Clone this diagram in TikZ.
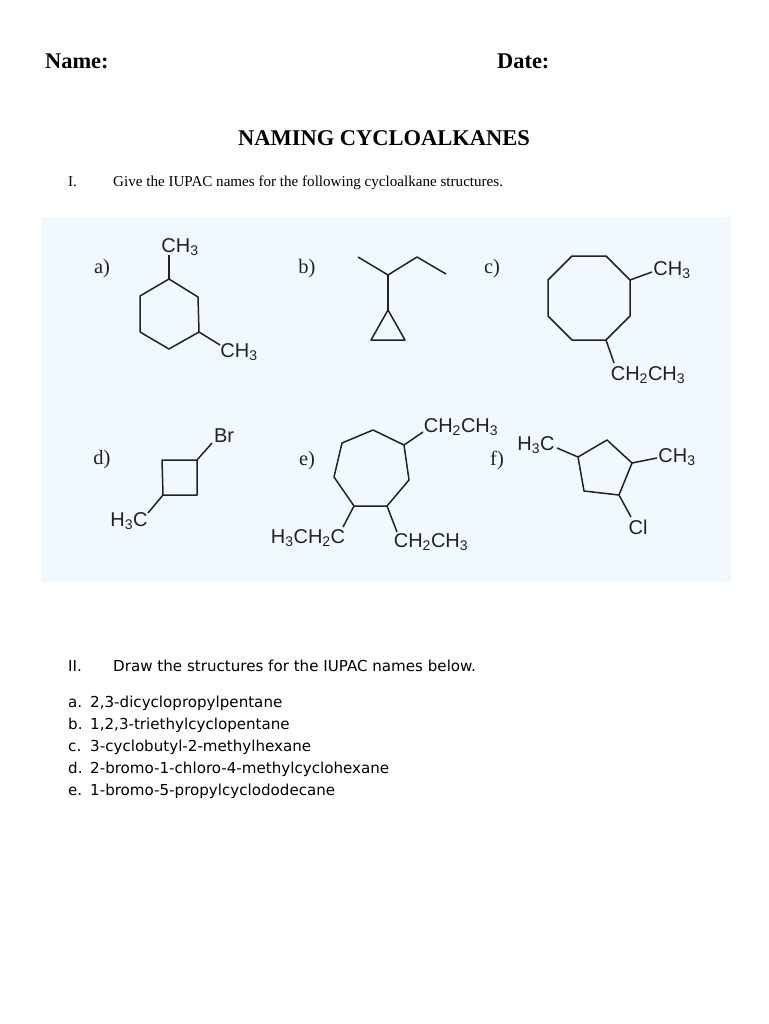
\documentclass[tikz,border=0pt]{standalone}
\usepackage{fontspec}
\setmainfont{Liberation Serif}
\setsansfont{Liberation Sans}
\newfontfamily\listfont{DejaVu Sans}
\definecolor{panelblue}{HTML}{F1F8FE}
\definecolor{bondgray}{HTML}{222222}
\tikzset{
  bond/.style={line width=1.5pt, bondgray, line join=round},
  atom/.style={inner sep=0pt, text=bondgray, font=\sffamily\fontsize{20}{20}\selectfont},
  part/.style={inner sep=0pt, yshift=-1.5pt, text=bondgray, font=\rmfamily\fontsize{20.5}{20}\selectfont},
  head/.style={anchor=base west, inner sep=0pt, font=\rmfamily\bfseries\fontsize{22.4}{23}\selectfont},
  body/.style={anchor=base west, inner sep=0pt, font=\rmfamily\fontsize{15.1}{15}\selectfont},
  item/.style={anchor=base west, inner sep=0pt, font=\listfont\fontsize{15.1}{15}\selectfont}
}
\newcommand{\subn}[1]{\textsubscript{#1}}
\begin{document}
\begin{tikzpicture}[x=1pt, y=-1pt]
    \useasboundingbox (0,0) rectangle (768,1024);
    \fill[white] (0,0) rectangle (768,1024);
    \fill[panelblue] (41,217) rectangle (731,582);

    % Encabezado
    \node[head] (name) at (45,69) {Name:};
    \node[head] (date) at (497,69) {Date:};
    \node[head, anchor=base, font=\rmfamily\bfseries\fontsize{22.5}{23}\selectfont] (title) at (384,146) {NAMING CYCLOALKANES};
    \node[body] (one) at (68,187) {I.};
    \node[body] (onetext) at (113,187) {Give the IUPAC names for the following cycloalkane structures.};

    % Estructura a
    \node[part] (la) at (102,267) {a)};
    \node[atom] (a7) at (180,247) {CH\subn{3}};
    \node[atom] (a8) at (239,352) {CH\subn{3}};
    \draw[bond] (169,279) coordinate (a1) -- (198,297) -- (199,332) coordinate (a2) -- (169,349) -- (140,332) -- (140,296) -- cycle;
    \draw[bond] (a1) -- (169,255);
    \draw[bond] (a2) -- (220,345);

    % Estructura b
    \node[part] (lb) at (307,267) {b)};
    \draw[bond] (358,257) -- (388,275) coordinate (b1) -- (417,257) -- (446,274);
    \draw[bond] (b1) -- (388,310) coordinate (b2);
    \draw[bond] (b2) -- (405,340) -- (371,340) -- cycle;

    % Estructura c
    \node[part] (lc) at (492,267) {c)};
    \node[atom] (c3) at (672,270) {CH\subn{3}};
    \node[atom] (c4) at (648,375) {CH\subn{2}CH\subn{3}};
    \draw[bond] (572,256) -- (606,256) -- (630,280) coordinate (c1) -- (630,316) -- (606,340) coordinate (c2) -- (572,340) -- (548,316) -- (548,280) -- cycle;
    \draw[bond] (c1) -- (652,272);
    \draw[bond] (c2) -- (614,363);

    % Estructura d
    \node[part] (ld) at (102,458) {d)};
    \node[atom] (d3) at (224,436) {Br};
    \node[atom] (d4) at (129,521) {H\subn{3}C};
    \draw[bond] (162,460) -- (197,460) coordinate (d1) -- (197,495) -- (163,495) coordinate (d2) -- cycle;
    \draw[bond] (d1) -- (212,443);
    \draw[bond] (d2) -- (148,513);

    % Estructura e
    \node[part] (le) at (307,459) {e)};
    \node[atom] (e4) at (461,427) {CH\subn{2}CH\subn{3}};
    \node[atom] (e5) at (431,542) {CH\subn{2}CH\subn{3}};
    \node[atom] (e6) at (308,538) {H\subn{3}CH\subn{2}C};
    \draw[bond] (373,430) -- (342,443) -- (334,477) -- (354,506) coordinate (e3) -- (387,506) coordinate (e2) -- (409,480) -- (404,445) coordinate (e1) -- cycle;
    \draw[bond] (e1) -- (423,432);
    \draw[bond] (e2) -- (397,532);
    \draw[bond] (e3) -- (343,527);

    % Estructura f
    \node[part] (lf) at (497,459) {f)};
    \node[atom] (f4) at (536,445) {H\subn{3}C};
    \node[atom] (f5) at (677,457) {CH\subn{3}};
    \node[atom] (f6) at (638,527) {Cl};
    \draw[bond] (607,440) -- (632,463) coordinate (f2) -- (619,495) coordinate (f3) -- (584,491) -- (578,457) coordinate (f1) -- cycle;
    \draw[bond] (f1) -- (557,448);
    \draw[bond] (f2) -- (657,458);
    \draw[bond] (f3) -- (631,517);

    % Segunda parte
    \node[item] (two) at (68,671) {II.};
    \node[item] (twotext) at (113,671) {Draw the structures for the IUPAC names below.};
    \node[item] (ia) at (68,707) {a.};
    \node[item] (ta) at (90,707) {2,3-dicyclopropylpentane};
    \node[item] (ib) at (68,729) {b.};
    \node[item] (tb) at (90,729) {1,2,3-triethylcyclopentane};
    \node[item] (ic) at (68,751) {c.};
    \node[item] (tc) at (90,751) {3-cyclobutyl-2-methylhexane};
    \node[item] (id) at (68,773) {d.};
    \node[item] (td) at (90,773) {2-bromo-1-chloro-4-methylcyclohexane};
    \node[item] (ie) at (68,795) {e.};
    \node[item] (te) at (90,795) {1-bromo-5-propylcyclododecane};
\end{tikzpicture}
\end{document}
